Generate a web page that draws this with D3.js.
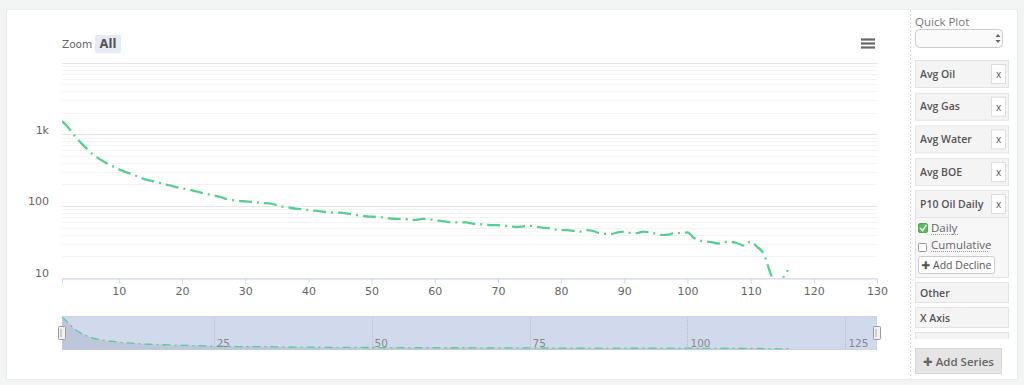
<!DOCTYPE html>
<html>
<head>
<meta charset="utf-8">
<script src="https://cdn.jsdelivr.net/npm/d3@7"></script>
<style>
  body { margin: 0; background: #f3f4f4; }
  #graphic { width: 1024px; height: 385px; }
  svg text { font-family: "DejaVu Sans", "Liberation Sans", sans-serif; }
  .side text { font-family: "Open Sans", "DejaVu Sans", sans-serif; }
</style>
</head>
<body>
<div id="graphic"></div>
<script>
// P10 oil daily rate, one value per day starting at day 1
const firstDay = 1;
const oilDaily = [
  1530, 1250, 950, 760, 620, 514, 450, 400, 360, 325,
  300, 280, 258, 238, 226, 216, 204, 195, 184, 176,
  170, 162, 154, 147, 141, 134, 126, 121, 118, 116,
  114, 112, 110, 108, 103, 98, 95, 92, 90, 88,
  86, 84, 82, 81, 81, 79, 76, 74, 72, 71,
  70, 69, 67, 66, 66, 65, 64, 66, 66, 63,
  62, 60, 59, 59, 59, 57, 56, 55, 54, 54,
  53, 52, 51, 52, 53, 52, 50, 49, 47, 46,
  46, 45, 44, 46, 45, 42, 41, 41, 43, 44,
  42, 42, 44, 43, 41, 39.5, 40, 42, 42, 43,
  36, 33, 32, 31, 30, 31.5, 31.5, 30, 28, 32,
  27, 22, 12.5, 7.5, 9.5, 13.5
];
const xTicks = [10, 20, 30, 40, 50, 60, 70, 80, 90, 100, 110, 120, 130];
const yTicks = [10, 100, 1000];
const yLabels = ["10", "100", "1k"];
const navTicks = [25, 50, 75, 100, 125];
const seriesNames = ["Avg Oil", "Avg Gas", "Avg Water", "Avg BOE"];
const lowerItems = ["Other", "X Axis", "Y Axis"];

const series = oilDaily.map((v, i) => ({ day: firstDay + i, value: v }));

const chart = {
  create(opts){
    const instance = Object.create(this);
    Object.keys(opts).forEach(function(key){
      instance[key] = opts[key];
    });
    return instance;
  },
  el: "#graphic",
  color: "#57cf93",
  dash: "13,5,2,5",
  plot: { left: 62, right: 877, top: 62.7, bottom: 277.7 },
  nav: { top: 316, bottom: 350 },
  createScales(){
    this.xScale = d3.scaleLinear()
      .domain([1, 130])
      .range([this.plot.left, this.plot.right]);
    this.yScale = d3.scaleLog()
      .domain([10, 10000])
      .range([this.plot.bottom, this.plot.top]);
    this.navY = d3.scaleLinear()
      .domain([0, d3.max(series, d => d.value)])
      .range([this.nav.bottom - 1, this.nav.top + 1]);
  },
  drawFrame(){
    document.querySelector(this.el).innerHTML = "";
    this.svg = d3.select(this.el)
      .append("svg")
      .attr("width", 1024)
      .attr("height", 385);

    this.svg.append("rect")
      .attr("x", 6.5).attr("y", 9.5)
      .attr("width", 1011).attr("height", 370)
      .attr("fill", "#fff")
      .attr("stroke", "#ebeded");

    // zoom buttons + menu
    this.svg.append("text")
      .attr("x", 62).attr("y", 48)
      .attr("font-size", 10.5).attr("fill", "#666")
      .attr("font-family", "Liberation Sans, Arial, sans-serif")
      .text("Zoom");
    this.svg.append("rect")
      .attr("x", 95).attr("y", 35).attr("width", 26).attr("height", 18)
      .attr("rx", 2).attr("fill", "#e6ebf5");
    this.svg.append("text")
      .attr("x", 108).attr("y", 48)
      .attr("text-anchor", "middle")
      .attr("font-size", 11.5).attr("font-weight", "bold").attr("fill", "#555")
      .attr("font-family", "Liberation Sans, Arial, sans-serif")
      .text("All");
    this.svg.append("g")
      .selectAll("line")
      .data([39.5, 43.5, 47.5])
      .enter().append("line")
      .attr("x1", 861).attr("x2", 875)
      .attr("y1", d => d).attr("y2", d => d)
      .attr("stroke", "#666").attr("stroke-width", 2.2);
  },
  drawGrid(){
    const that = this;
    const minor = [];
    [10, 100, 1000].forEach(function(dec){
      for (let k = 2; k < 10; k++) minor.push(dec * k);
    });
    const grid = this.svg.append("g").attr("class", "grid");
    grid.selectAll("line.minor")
      .data(minor)
      .enter().append("line")
      .attr("class", "minor")
      .attr("x1", this.plot.left).attr("x2", this.plot.right)
      .attr("y1", d => Math.round(that.yScale(d)) + 0.5)
      .attr("y2", d => Math.round(that.yScale(d)) + 0.5)
      .attr("stroke", "#f3f3f3");
    grid.selectAll("line.major")
      .data([10, 100, 1000, 10000])
      .enter().append("line")
      .attr("class", "major")
      .attr("x1", this.plot.left).attr("x2", this.plot.right)
      .attr("y1", d => Math.round(that.yScale(d)) + 0.5)
      .attr("y2", d => Math.round(that.yScale(d)) + 0.5)
      .attr("stroke", "#e6e6e6");
  },
  drawAxes(){
    const xAxis = d3.axisBottom(this.xScale)
      .tickValues(xTicks)
      .tickSize(5)
      .tickFormat(d3.format("d"));
    const gx = this.svg.append("g")
      .attr("class", "axis xaxis")
      .attr("transform", `translate(0, ${Math.round(this.plot.bottom) + 0.5})`)
      .call(xAxis);
    gx.select(".domain").attr("stroke", "#ccd6eb");
    gx.selectAll(".tick line").attr("stroke", "#ccd6eb");
    gx.selectAll(".tick text")
      .attr("y", 9).attr("font-size", 11).attr("fill", "#666")
      .attr("font-family", "DejaVu Sans, sans-serif");

    const yAxis = d3.axisLeft(this.yScale)
      .tickValues(yTicks)
      .tickSize(0)
      .tickFormat((d, i) => yLabels[i]);
    const gy = this.svg.append("g")
      .attr("class", "axis yaxis")
      .attr("transform", `translate(${this.plot.left - 13}, 0)`)
      .call(yAxis);
    gy.select(".domain").remove();
    gy.selectAll(".tick text")
      .attr("x", 0).attr("dy", "-0.1em")
      .attr("font-size", 11).attr("fill", "#666")
      .attr("font-family", "DejaVu Sans, sans-serif");
  },
  drawData(){
    const that = this;
    this.svg.append("clipPath").attr("id", "plotClip")
      .append("rect")
      .attr("x", this.plot.left).attr("y", this.plot.top)
      .attr("width", this.plot.right - this.plot.left)
      .attr("height", this.plot.bottom - this.plot.top);

    const line = d3.line()
      .curve(d3.curveMonotoneX)
      .x(d => that.xScale(d.day))
      .y(d => that.yScale(d.value));

    this.svg.append("path")
      .datum(series)
      .attr("clip-path", "url(#plotClip)")
      .attr("fill", "none")
      .attr("stroke", this.color)
      .attr("stroke-width", 2.3)
      .attr("stroke-dasharray", this.dash)
      .attr("d", line);
  },
  drawNavigator(){
    const that = this;
    const g = this.svg.append("g").attr("class", "navigator");
    const w = this.plot.right - this.plot.left;

    const area = d3.area()
      .curve(d3.curveMonotoneX)
      .x(d => that.xScale(d.day))
      .y0(this.nav.bottom)
      .y1(d => that.navY(d.value));
    const line = d3.line()
      .curve(d3.curveMonotoneX)
      .x(d => that.xScale(d.day))
      .y(d => that.navY(d.value));

    g.append("path").datum(series)
      .attr("fill", "rgba(140,140,150,0.25)")
      .attr("d", area);

    // selected range mask covers everything
    g.append("rect")
      .attr("x", this.plot.left).attr("y", this.nav.top)
      .attr("width", w).attr("height", this.nav.bottom - this.nav.top)
      .attr("fill", "rgba(102,133,194,0.3)");

    g.append("path").datum(series)
      .attr("fill", "none")
      .attr("stroke", this.color)
      .attr("stroke-width", 1.3)
      .attr("stroke-dasharray", "8,4,2,4")
      .attr("d", line);

    g.selectAll("line.ng")
      .data(navTicks)
      .enter().append("line")
      .attr("class", "ng")
      .attr("x1", d => Math.round(that.xScale(d)) + 0.5)
      .attr("x2", d => Math.round(that.xScale(d)) + 0.5)
      .attr("y1", this.nav.top).attr("y2", this.nav.bottom)
      .attr("stroke", "#b8bfcc").attr("stroke-dasharray", "1,1");
    g.selectAll("text.nl")
      .data(navTicks)
      .enter().append("text")
      .attr("class", "nl")
      .attr("x", d => that.xScale(d) + 3)
      .attr("y", 347)
      .attr("font-size", 10.5).attr("fill", "#888")
      .text(d => d);

    g.append("rect")
      .attr("x", this.plot.left + 0.5).attr("y", this.nav.top + 0.5)
      .attr("width", w - 1).attr("height", this.nav.bottom - this.nav.top - 1)
      .attr("fill", "none").attr("stroke", "#c6ccd6").attr("stroke-dasharray", "1,1");

    [this.plot.left, this.plot.right].forEach(function(hx){
      g.append("rect")
        .attr("x", hx - 3.5).attr("y", 326.5)
        .attr("width", 7).attr("height", 13)
        .attr("rx", 1)
        .attr("fill", "#f2f2f2").attr("stroke", "#999");
      g.append("line")
        .attr("x1", hx - 1).attr("x2", hx - 1)
        .attr("y1", 329).attr("y2", 337)
        .attr("stroke", "#aaa");
    });
  },
  drawSidebar(){
    const side = this.svg.append("g").attr("class", "side");

    side.append("line")
      .attr("x1", 910.5).attr("x2", 910.5)
      .attr("y1", 10).attr("y2", 379)
      .attr("stroke", "#d6d6d6").attr("stroke-dasharray", "2,2");

    side.append("text")
      .attr("x", 915).attr("y", 26)
      .attr("font-size", 11.5).attr("fill", "#777")
      .text("Quick Plot");
    side.append("rect")
      .attr("x", 915.5).attr("y", 29.5).attr("width", 87).attr("height", 18)
      .attr("rx", 4).attr("fill", "#fafafa").attr("stroke", "#ccc");
    side.append("path")
      .attr("d", "M995.5,37 L998,34 L1000.5,37 Z M995.5,40 L998,43 L1000.5,40 Z")
      .attr("fill", "#666");

    const item = function(y, h, label, withX){
      side.append("rect")
        .attr("x", 915.5).attr("y", y + 0.5).attr("width", 93).attr("height", h)
        .attr("fill", "#f4f4f4").attr("stroke", "#e4e4e4");
      side.append("text")
        .attr("x", 920).attr("y", y + h / 2 + 4)
        .attr("font-size", 10.5).attr("font-weight", 600).attr("fill", "#555")
        .text(label);
      if (withX) {
        side.append("rect")
          .attr("x", 991.5).attr("y", y + 4.5).attr("width", 14).attr("height", 19)
          .attr("fill", "#fff").attr("stroke", "#ddd");
        side.append("text")
          .attr("x", 998.5).attr("y", y + 18)
          .attr("text-anchor", "middle")
          .attr("font-size", 10).attr("fill", "#555")
          .text("x");
      }
    };

    seriesNames.forEach(function(name, i){
      item(60 + i * 32.7, 27, name, true);
    });

    // expanded series
    side.append("rect")
      .attr("x", 915.5).attr("y", 190.5).attr("width", 93).attr("height", 87)
      .attr("fill", "#f7f7f7").attr("stroke", "#e4e4e4");
    item(190, 27, "P10 Oil Daily", true);
    side.append("rect")
      .attr("x", 918.5).attr("y", 223.5).attr("width", 9).attr("height", 9)
      .attr("rx", 1.5).attr("fill", "#5cb85c").attr("stroke", "#4cae4c");
    side.append("path")
      .attr("d", "M920,228 L922.5,230.5 L926.5,225")
      .attr("fill", "none").attr("stroke", "#fff").attr("stroke-width", 1.5);
    side.append("text")
      .attr("x", 931).attr("y", 232)
      .attr("font-size", 11.5).attr("fill", "#666")
      .text("Daily");
    side.append("line")
      .attr("x1", 931).attr("x2", 958).attr("y1", 234.5).attr("y2", 234.5)
      .attr("stroke", "#999").attr("stroke-dasharray", "1,1");
    side.append("rect")
      .attr("x", 918.5).attr("y", 243.5).attr("width", 8).attr("height", 8)
      .attr("rx", 1).attr("fill", "#fff").attr("stroke", "#999");
    side.append("text")
      .attr("x", 931).attr("y", 249)
      .attr("font-size", 11.5).attr("fill", "#666")
      .text("Cumulative");
    side.append("line")
      .attr("x1", 931).attr("x2", 989).attr("y1", 251.5).attr("y2", 251.5)
      .attr("stroke", "#999").attr("stroke-dasharray", "1,1");
    side.append("rect")
      .attr("x", 918.5).attr("y", 256.5).attr("width", 76).attr("height", 17)
      .attr("rx", 2).attr("fill", "#fff").attr("stroke", "#ccc");
    side.append("text")
      .attr("x", 956.5).attr("y", 269)
      .attr("text-anchor", "middle")
      .attr("font-size", 10.5).attr("fill", "#555")
      .text("\u271A Add Decline");

    // lower groups, last one cut off by the scroll box
    side.append("clipPath").attr("id", "sideClip")
      .append("rect").attr("x", 912).attr("y", 278).attr("width", 100).attr("height", 61);
    const lower = side.append("g").attr("clip-path", "url(#sideClip)");
    lowerItems.forEach(function(name, i){
      const y = 282 + i * 25;
      lower.append("rect")
        .attr("x", 915.5).attr("y", y + 0.5).attr("width", 93).attr("height", 20)
        .attr("fill", "#f4f4f4").attr("stroke", "#e4e4e4");
      lower.append("text")
        .attr("x", 920).attr("y", y + 14.5)
        .attr("font-size", 10.5).attr("font-weight", 600).attr("fill", "#555")
        .text(name);
    });

    side.append("rect")
      .attr("x", 915.5).attr("y", 348.5).attr("width", 86).attr("height", 25)
      .attr("fill", "#e5e5e5").attr("stroke", "#bbb").attr("stroke-dasharray", "1,1");
    side.append("text")
      .attr("x", 958.5).attr("y", 365.5)
      .attr("text-anchor", "middle")
      .attr("font-size", 11.5).attr("font-weight", 600).attr("fill", "#666")
      .text("\u271A Add Series");
  },
  draw(){
    this.createScales();
    this.drawFrame();
    this.drawGrid();
    this.drawAxes();
    this.drawData();
    this.drawNavigator();
    this.drawSidebar();
  }
};

chart.create({}).draw();
</script>
</body>
</html>
